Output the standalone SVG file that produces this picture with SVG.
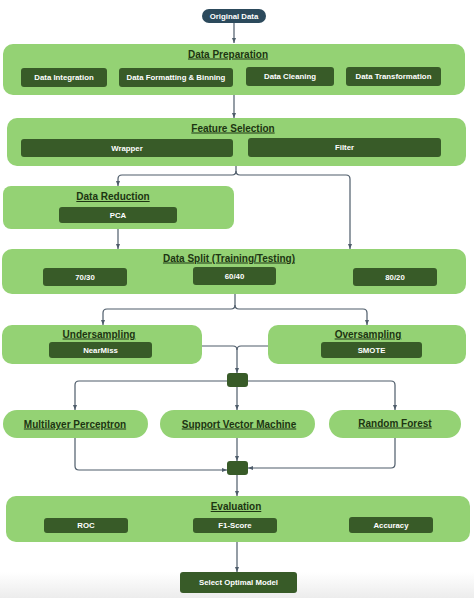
<svg xmlns="http://www.w3.org/2000/svg" width="474" height="598" viewBox="0 0 474 598">
  <defs>
    <style>
      .panel { fill: #94d274; }
      .item { fill: #385b28; }
      .hub { fill: #385b28; }
      .title { font-family: "Liberation Sans", Arial, sans-serif; font-weight: 700; font-size: 10px; fill: #1d3512; text-anchor: middle; text-decoration: underline; }
      .label { font-family: "Liberation Sans", Arial, sans-serif; font-weight: 700; font-size: 7.8px; fill: #ffffff; text-anchor: middle; }
      .wire { fill: none; stroke: #4e5c6a; stroke-width: 1.2; }
      .wire.arrow { marker-end: url(#tip); }
    </style>
    <marker id="tip" viewBox="0 0 10 10" refX="10" refY="5" markerWidth="5" markerHeight="5" markerUnits="userSpaceOnUse" orient="auto">
      <path d="M0,1 L10,5 L0,9 Z" fill="#4e5c6a"/>
    </marker>
    <linearGradient id="floor" x1="0" y1="0" x2="0" y2="1">
      <stop offset="0" stop-color="#ffffff"/>
      <stop offset="1" stop-color="#ececec"/>
    </linearGradient>
  </defs>

  <rect x="0" y="0" width="474" height="598" fill="#ffffff"/>
  <rect x="0" y="572" width="474" height="26" fill="url(#floor)"/>

  <!-- connectors -->
  <g id="connectors">
    <path class="wire arrow" d="M234,23 V43"/>
    <path class="wire arrow" d="M234,95 V118"/>
    <!-- feature selection fan-out -->
    <path class="wire" d="M236,166 V171"/>
    <path class="wire arrow" d="M236,171 Q236,175 232,175 H122 Q118,175 118,179 V186"/>
    <path class="wire arrow" d="M236,171 Q236,175 240,175 H346 Q350,175 350,179 V249"/>
    <path class="wire arrow" d="M118,229 V249"/>
    <!-- data split fan-out -->
    <path class="wire" d="M235,294 V305"/>
    <path class="wire arrow" d="M235,305 Q235,309 231,309 H107 Q103,309 103,313 V325"/>
    <path class="wire arrow" d="M235,305 Q235,309 239,309 H363 Q367,309 367,313 V325"/>
    <!-- sampling merge -->
    <path class="wire arrow" d="M202,346 H233 Q237,346 237,350 V373"/>
    <path class="wire" d="M268,346 H241 Q237,346 237,350"/>
    <!-- model fan-out -->
    <path class="wire arrow" d="M227,381 H79 Q75,381 75,385 V410"/>
    <path class="wire arrow" d="M237,387 V410"/>
    <path class="wire arrow" d="M248,381 H391 Q395,381 395,385 V410"/>
    <!-- model merge -->
    <path class="wire arrow" d="M75,438 V466 Q75,470 79,470 H227"/>
    <path class="wire arrow" d="M237,438 V461"/>
    <path class="wire arrow" d="M395,438 V464 Q395,468 391,468 H248"/>
    <path class="wire arrow" d="M237,475 V496"/>
    <path class="wire arrow" d="M237,542 V572"/>
  </g>

  <g id="original-data">
    <rect x="202" y="9" width="64" height="14" rx="7" fill="#2c4a5c"/>
    <text class="label" x="234" y="18.8">Original Data</text>
  </g>

  <g id="data-preparation">
    <rect class="panel" x="3" y="44" width="462" height="51" rx="10"/>
    <text class="title" x="228" y="57.5">Data Preparation</text>
    <rect class="item" x="21" y="68" width="86" height="19" rx="3"/>
    <text class="label" x="64" y="80.3">Data Integration</text>
    <rect class="item" x="119" y="68" width="114" height="19" rx="3"/>
    <text class="label" x="176" y="80.3">Data Formatting &amp; Binning</text>
    <rect class="item" x="246" y="67" width="88" height="19" rx="3"/>
    <text class="label" x="290" y="79.3">Data Cleaning</text>
    <rect class="item" x="346" y="67" width="95" height="19" rx="3"/>
    <text class="label" x="393.5" y="79.3">Data Transformation</text>
  </g>

  <g id="feature-selection">
    <rect class="panel" x="7" y="118" width="459" height="48" rx="10"/>
    <text class="title" x="233" y="131.5">Feature Selection</text>
    <rect class="item" x="21" y="139" width="212" height="18" rx="3"/>
    <text class="label" x="127" y="150.8">Wrapper</text>
    <rect class="item" x="248" y="138" width="193" height="19" rx="3"/>
    <text class="label" x="344.5" y="150.3">Filter</text>
  </g>

  <g id="data-reduction">
    <rect class="panel" x="3" y="186" width="231" height="43" rx="8"/>
    <text class="title" x="113" y="200">Data Reduction</text>
    <rect class="item" x="59" y="207" width="118" height="16" rx="3"/>
    <text class="label" x="118" y="217.8">PCA</text>
  </g>

  <g id="data-split">
    <rect class="panel" x="2" y="249" width="464" height="45" rx="10"/>
    <text class="title" x="229" y="261.5">Data Split (Training/Testing)</text>
    <rect class="item" x="43" y="268" width="84" height="18" rx="3"/>
    <text class="label" x="85" y="279.8">70/30</text>
    <rect class="item" x="193" y="267" width="83" height="18" rx="3"/>
    <text class="label" x="234.5" y="278.8">60/40</text>
    <rect class="item" x="353" y="268" width="84" height="18" rx="3"/>
    <text class="label" x="395" y="279.8">80/20</text>
  </g>

  <g id="undersampling">
    <rect class="panel" x="2" y="325" width="200" height="39" rx="10"/>
    <text class="title" x="99" y="337.5">Undersampling</text>
    <rect class="item" x="49" y="342" width="103" height="16" rx="3"/>
    <text class="label" x="100.5" y="352.8">NearMiss</text>
  </g>

  <g id="oversampling">
    <rect class="panel" x="268" y="325" width="198" height="39" rx="10"/>
    <text class="title" x="368" y="337.5">Oversampling</text>
    <rect class="item" x="321" y="342" width="101" height="16" rx="3"/>
    <text class="label" x="371.5" y="352.8">SMOTE</text>
  </g>

  <g id="model-hub">
    <rect class="hub" x="227" y="373" width="21" height="14" rx="3"/>
  </g>

  <g id="multilayer-perceptron">
    <rect class="panel" x="3" y="410" width="145" height="28" rx="14"/>
    <text class="title" x="75" y="427.5">Multilayer Perceptron</text>
  </g>

  <g id="support-vector-machine">
    <rect class="panel" x="160" y="410" width="155" height="28" rx="14"/>
    <text class="title" x="239" y="427.5">Support Vector Machine</text>
  </g>

  <g id="random-forest">
    <rect class="panel" x="329" y="410" width="132" height="28" rx="14"/>
    <text class="title" x="395" y="426.5">Random Forest</text>
  </g>

  <g id="result-hub">
    <rect class="hub" x="227" y="461" width="21" height="14" rx="3"/>
  </g>

  <g id="evaluation">
    <rect class="panel" x="6" y="496" width="464" height="46" rx="10"/>
    <text class="title" x="236" y="510">Evaluation</text>
    <rect class="item" x="44" y="518" width="84" height="15" rx="3"/>
    <text class="label" x="86" y="528.3">ROC</text>
    <rect class="item" x="193" y="518" width="84" height="15" rx="3"/>
    <text class="label" x="235" y="528.3">F1-Score</text>
    <rect class="item" x="349" y="517" width="84" height="16" rx="3"/>
    <text class="label" x="391" y="527.8">Accuracy</text>
  </g>

  <g id="select-optimal-model">
    <rect class="item" x="180" y="572" width="117" height="21" rx="3"/>
    <text class="label" x="238.5" y="585.3">Select Optimal Model</text>
  </g>
</svg>
